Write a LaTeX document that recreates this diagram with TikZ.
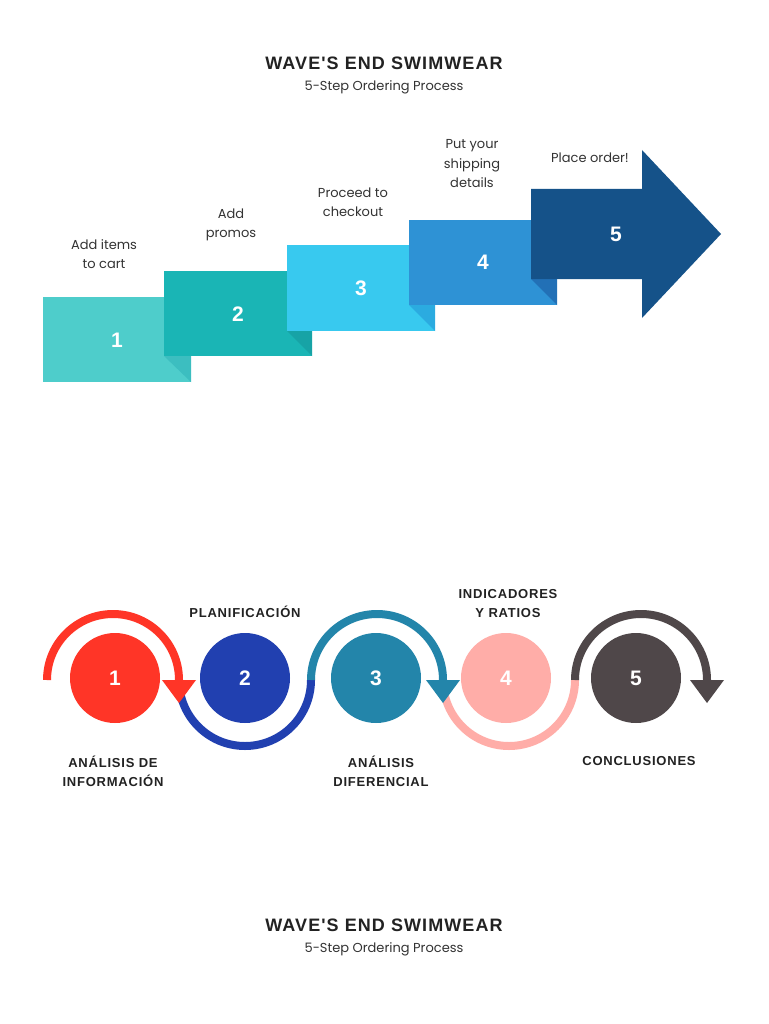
\documentclass[tikz,border=0pt]{standalone}
\usepackage{fontspec}
\setmainfont{Liberation Sans}
\newfontfamily\pop{Poppins}
\newfontfamily\titlefont[Ligatures=TeXOff]{Liberation Sans}
\definecolor{cA}{HTML}{4ECDCB}
\definecolor{cAs}{HTML}{3CBEC0}
\definecolor{cB}{HTML}{1AB5B5}
\definecolor{cBs}{HTML}{17A3A6}
\definecolor{cC}{HTML}{38C9EF}
\definecolor{cCs}{HTML}{2BABE0}
\definecolor{cD}{HTML}{2E92D5}
\definecolor{cDs}{HTML}{2270B6}
\definecolor{cE}{HTML}{155289}
\definecolor{rRed}{HTML}{FF3527}
\definecolor{rBlue}{HTML}{2140B0}
\definecolor{rTeal}{HTML}{2385AA}
\definecolor{rPink}{HTML}{FFADA8}
\definecolor{rDark}{HTML}{4F4749}
\definecolor{txt}{HTML}{333333}
\definecolor{txtb}{HTML}{222222}
\begin{document}
\begin{tikzpicture}[x=1pt,y=1pt,
  title/.style={font=\titlefont\bfseries\fontsize{18}{20}\selectfont\addfontfeature{LetterSpace=6}, text=txtb},
  subtitle/.style={font=\pop\fontsize{13}{15}\selectfont, text=txt},
  steplabel/.style={font=\pop\fontsize{13}{19.5}\selectfont, text=txt, align=center},
  stepnum/.style={font=\bfseries\fontsize{21}{24}\selectfont, text=white},
  capslabel/.style={font=\bfseries\fontsize{13}{19}\selectfont\addfontfeature{LetterSpace=6}, text=txtb, align=center},
  ring/.style={line width=8pt},
  disc/.style={circle, minimum size=90pt, inner sep=0pt, font=\bfseries\fontsize{21}{24}\selectfont, text=white}
]
\useasboundingbox (0,0) rectangle (768,-1024);
\fill[white] (0,0) rectangle (768,-1024);

% titles
\node[title] (t1) at (384,-63) {WAVE'S END SWIMWEAR};
\node[subtitle] (s1) at (384,-87) {5-Step Ordering Process};
\node[title] (t2) at (384,-925) {WAVE'S END SWIMWEAR};
\node[subtitle] (s2) at (384,-949) {5-Step Ordering Process};

% staircase
\fill[cA] (43,-297) rectangle (191,-382);
\fill[cAs] (164,-356) -- (191,-356) -- (191,-382) -- cycle;
\fill[cB] (164,-271) rectangle (312,-356);
\fill[cBs] (287,-331) -- (312,-331) -- (312,-356) -- cycle;
\fill[cC] (287,-245) rectangle (435,-331);
\fill[cCs] (409,-305) -- (435,-305) -- (435,-331) -- cycle;
\fill[cD] (409,-220) rectangle (557,-305);
\fill[cDs] (531,-279) -- (557,-279) -- (557,-305) -- cycle;
\fill[cE] (531,-189) -- (642,-189) -- (642,-150) -- (721,-234) -- (642,-318) -- (642,-279) -- (531,-279) -- cycle;

\node[stepnum] (n1) at (117,-340) {1};
\node[stepnum] (n2) at (238,-314) {2};
\node[stepnum] (n3) at (361,-288) {3};
\node[stepnum] (n4) at (483,-262) {4};
\node[stepnum] (n5) at (616,-234) {5};

\node[steplabel] (l1) at (104,-254) {Add items\\to cart};
\node[steplabel] (l2) at (231,-225) {Add\\promos};
\node[steplabel] (l3) at (353,-202) {Proceed to\\checkout};
\node[steplabel] (l4) at (472,-164) {Put your\\shipping\\details};
\node[steplabel] (l5) at (590,-158) {Place order!};

% cycle rings
\draw[ring, rBlue] (179,-680) arc[start angle=180, end angle=360, radius=66];
\draw[ring, rRed] (47,-680) arc[start angle=180, end angle=0, radius=66];
\fill[rRed] (162,-680) -- (196,-680) -- (179,-703) -- cycle;
\draw[ring, rPink] (443,-680) arc[start angle=180, end angle=360, radius=66];
\draw[ring, rTeal] (311,-680) arc[start angle=180, end angle=0, radius=66];
\fill[rTeal] (426,-680) -- (460,-680) -- (443,-703) -- cycle;
\draw[ring, rDark] (575,-680) arc[start angle=180, end angle=0, radius=66];
\fill[rDark] (690,-680) -- (724,-680) -- (707,-703) -- cycle;

\node[disc, fill=rRed] (c1) at (115,-678) {1};
\node[disc, fill=rBlue] (c2) at (245,-678) {2};
\node[disc, fill=rTeal] (c3) at (376,-678) {3};
\node[disc, fill=rPink] (c4) at (506,-678) {4};
\node[disc, fill=rDark] (c5) at (636,-678) {5};

\node[capslabel] (a1) at (113,-771) {ANÁLISIS DE\\INFORMACIÓN};
\node[capslabel] (a2) at (245,-612) {PLANIFICACIÓN};
\node[capslabel] (a3) at (381,-771) {ANÁLISIS\\DIFERENCIAL};
\node[capslabel] (a4) at (508,-604) {INDICADORES\\Y RATIOS};
\node[capslabel] (a5) at (639,-761) {CONCLUSIONES};
\end{tikzpicture}
\end{document}
